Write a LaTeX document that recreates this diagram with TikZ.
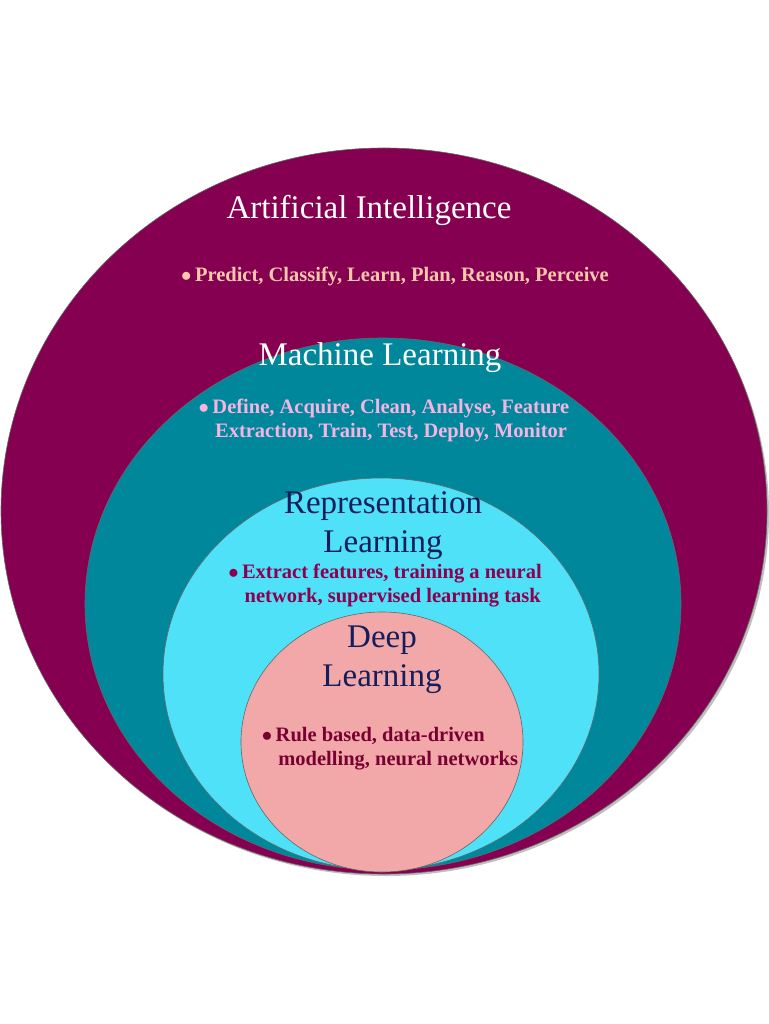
\documentclass[tikz,border=0pt]{standalone}
\usepackage{fontspec}
\setmainfont{Liberation Serif}
\begin{document}
\begin{tikzpicture}[x=1pt,y=-1pt,
 ring/.style={draw=black!60,line width=0.6pt},
 ttl/.style={font=\fontsize{33}{39}\selectfont,align=center},
 bul/.style={font=\fontsize{20.5}{24}\selectfont\bfseries,align=left}]
\useasboundingbox (0,0) rectangle (768,1024);
\fill[white] (0,0) rectangle (768,1024);
\definecolor{ai}{HTML}{850050}
\definecolor{ml}{HTML}{00879B}
\definecolor{rl}{HTML}{4FE1F8}
\definecolor{dl}{HTML}{F2A8A8}
\fill[black!25] (386,514) ellipse [x radius=383pt, y radius=362pt];
\path[ring,fill=ai] (384,511) ellipse [x radius=383pt, y radius=363pt];
\path[ring,fill=ml] (383,604) ellipse [x radius=298pt, y radius=266pt];
\path[ring,fill=rl] (381,674) ellipse [x radius=218pt, y radius=196pt];
\path[ring,fill=dl] (382,742) ellipse [x radius=141pt, y radius=130pt];
\node[ttl,text=white] (ait) at (369,210) {Artificial Intelligence};
\node[bul,text={rgb,255:red,248;green,200;blue,170}] (aib) at (395,276) {$\bullet$\,Predict, Classify, Learn, Plan, Reason, Perceive};
\node[ttl,text=white] (mlt) at (380,358) {Machine Learning};
\node[bul,text={rgb,255:red,245;green,180;blue,225}] (mlb) at (384,420) {$\bullet$\,Define, Acquire, Clean, Analyse, Feature\\\hspace{0.8em}Extraction, Train, Test, Deploy, Monitor};
\node[ttl,text={rgb,255:red,20;green,30;blue,90}] (rlt) at (383,526) {Representation\\Learning};
\node[bul,text={rgb,255:red,140;green,0;blue,80}] (rlb) at (385,586) {$\bullet$\,Extract features, training a neural\\\hspace{0.8em}network, supervised learning task};
\node[ttl,text={rgb,255:red,20;green,30;blue,90}] (dlt) at (382,660) {Deep\\Learning};
\node[bul,text={rgb,255:red,120;green,0;blue,50}] (dlb) at (390,749) {$\bullet$\,Rule based, data-driven\\\hspace{0.8em}modelling, neural networks};
\end{tikzpicture}
\end{document}
